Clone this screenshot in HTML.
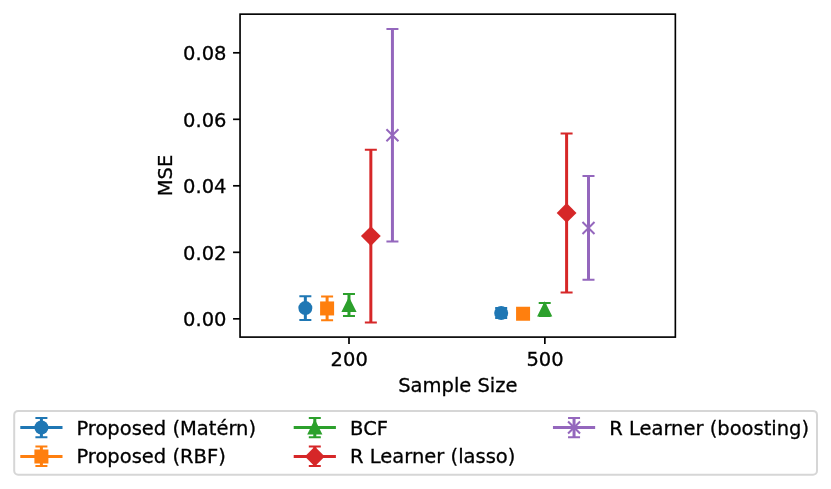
<!DOCTYPE html>
<html lang="en"><head><meta charset="utf-8"><title>MSE vs Sample Size</title>
<style>html,body{margin:0;padding:0;background:#fff}body{width:831px;height:489px;overflow:hidden}</style></head>
<body>
<svg width="831" height="489" viewBox="0 0 831 489" style="display:block">
<rect width="831" height="489" fill="#fff"/>
<g><path d="M305.35 296.20V320.00" stroke="#1f77b4" stroke-width="3.0" fill="none"/><path d="M299.35 296.20H311.35M299.35 320.00H311.35" stroke="#1f77b4" stroke-width="2.0" fill="none"/><circle cx="305.35" cy="308.1" r="7" fill="#1f77b4"/>
<path d="M501.18 308.00V318.06" stroke="#1f77b4" stroke-width="3.0" fill="none"/><path d="M495.18 308.00H507.18M495.18 318.06H507.18" stroke="#1f77b4" stroke-width="2.0" fill="none"/><circle cx="501.18" cy="313.03" r="7" fill="#1f77b4"/>
<path d="M327.1 296.60V320.30" stroke="#ff7f0e" stroke-width="3.0" fill="none"/><path d="M321.1 296.60H333.1M321.1 320.30H333.1" stroke="#ff7f0e" stroke-width="2.0" fill="none"/><rect x="320.1" y="301.45" width="14" height="14" fill="#ff7f0e"/>
<path d="M523.07 309.75V317.75" stroke="#ff7f0e" stroke-width="3.0" fill="none"/><path d="M517.07 309.75H529.07M517.07 317.75H529.07" stroke="#ff7f0e" stroke-width="2.0" fill="none"/><rect x="516.07" y="306.75" width="14" height="14" fill="#ff7f0e"/>
<path d="M348.98 294.10V316.10" stroke="#2ca02c" stroke-width="3.0" fill="none"/><path d="M342.98 294.10H354.98M342.98 316.10H354.98" stroke="#2ca02c" stroke-width="2.0" fill="none"/><path d="M348.98 299.1L354.98 311.1L342.98 311.1Z" fill="#2ca02c" stroke="#2ca02c" stroke-width="2" stroke-linejoin="miter"/>
<path d="M544.7 302.90V316.10" stroke="#2ca02c" stroke-width="3.0" fill="none"/><path d="M538.7 302.90H550.7M538.7 316.10H550.7" stroke="#2ca02c" stroke-width="2.0" fill="none"/><path d="M544.7 303.5L550.7 315.5L538.7 315.5Z" fill="#2ca02c" stroke="#2ca02c" stroke-width="2" stroke-linejoin="miter"/>
<path d="M370.84 149.69V322.49" stroke="#d62728" stroke-width="3.0" fill="none"/><path d="M364.84 149.69H376.84M364.84 322.49H376.84" stroke="#d62728" stroke-width="2.0" fill="none"/><path d="M370.84 226.19L380.73999999999995 236.09L370.84 245.99L360.94 236.09Z" fill="#d62728"/>
<path d="M566.6 133.40V292.40" stroke="#d62728" stroke-width="3.0" fill="none"/><path d="M560.6 133.40H572.6M560.6 292.40H572.6" stroke="#d62728" stroke-width="2.0" fill="none"/><path d="M566.6 203.0L576.5 212.9L566.6 222.8L556.7 212.9Z" fill="#d62728"/>
<path d="M392.43 28.93V241.61" stroke="#9467bd" stroke-width="3.0" fill="none"/><path d="M386.43 28.93H398.43M386.43 241.61H398.43" stroke="#9467bd" stroke-width="2.0" fill="none"/><path d="M386.43 129.27L398.43 141.27M386.43 141.27L398.43 129.27" fill="none" stroke="#9467bd" stroke-width="2"/>
<path d="M588.49 176.05V279.83" stroke="#9467bd" stroke-width="3.0" fill="none"/><path d="M582.49 176.05H594.49M582.49 279.83H594.49" stroke="#9467bd" stroke-width="2.0" fill="none"/><path d="M582.49 221.94L594.49 233.94M582.49 233.94L594.49 221.94" fill="none" stroke="#9467bd" stroke-width="2"/></g>
<rect x="240.05" y="14.15" width="435.30" height="322.95" fill="none" stroke="#000" stroke-width="1.65" stroke-linejoin="miter"/>
<g font-family='"DejaVu Sans", "Liberation Sans", sans-serif' font-size="20" fill="#000"><path d="M240.05 318.82h-7" stroke="#000" stroke-width="1.7"/>
<text transform="translate(226.5 326.22) scale(0.975 0.975)" text-anchor="end" stroke="#000" stroke-width="0.3">0.00</text>
<path d="M240.05 252.31h-7" stroke="#000" stroke-width="1.7"/>
<text transform="translate(226.5 259.71) scale(0.975 0.975)" text-anchor="end" stroke="#000" stroke-width="0.3">0.02</text>
<path d="M240.05 185.81h-7" stroke="#000" stroke-width="1.7"/>
<text transform="translate(226.5 193.21) scale(0.975 0.975)" text-anchor="end" stroke="#000" stroke-width="0.3">0.04</text>
<path d="M240.05 119.31h-7" stroke="#000" stroke-width="1.7"/>
<text transform="translate(226.5 126.71) scale(0.975 0.975)" text-anchor="end" stroke="#000" stroke-width="0.3">0.06</text>
<path d="M240.05 52.80h-7" stroke="#000" stroke-width="1.7"/>
<text transform="translate(226.5 60.2) scale(0.975 0.975)" text-anchor="end" stroke="#000" stroke-width="0.3">0.08</text>
<path d="M349.0 337.1v7" stroke="#000" stroke-width="1.7"/>
<text transform="translate(349.2 365.7) scale(0.975 0.975)" text-anchor="middle" stroke="#000" stroke-width="0.3">200</text>
<path d="M544.85 337.1v7" stroke="#000" stroke-width="1.7"/>
<text transform="translate(545.0500000000001 365.7) scale(0.975 0.975)" text-anchor="middle" stroke="#000" stroke-width="0.3">500</text>
<text transform="translate(457.85 392.35) scale(0.975 0.975)" text-anchor="middle" stroke="#000" stroke-width="0.3">Sample Size</text>
<text transform="translate(171.5 175.5) rotate(-90) scale(0.975 0.975)" text-anchor="middle" stroke="#000" stroke-width="0.3">MSE</text>
</g>
<rect x="14.2" y="410.9" width="802.8" height="63.9" rx="4" ry="4" fill="#fff" stroke="#d6d6d6" stroke-width="2"/>
<g font-family='"DejaVu Sans", "Liberation Sans", sans-serif' font-size="20" fill="#000"><path d="M20.299999999999997 427.55H62.5M41.4 417.55V437.55" stroke="#1f77b4" stroke-width="3.0" fill="none"/>
<path d="M35.4 417.95H47.4M35.4 437.15000000000003H47.4" stroke="#1f77b4" stroke-width="2.0" fill="none"/>
<circle cx="41.4" cy="427.55" r="7" fill="#1f77b4"/>
<text transform="translate(76.4 434.65) scale(0.975 0.975)" text-anchor="start" stroke="#000" stroke-width="0.3">Proposed (Matérn)</text>
<path d="M20.299999999999997 456.5H62.5M41.4 446.5V466.5" stroke="#ff7f0e" stroke-width="3.0" fill="none"/>
<path d="M35.4 446.5H47.4M35.4 466.1H47.4" stroke="#ff7f0e" stroke-width="2.0" fill="none"/>
<rect x="34.4" y="449.5" width="14" height="14" fill="#ff7f0e"/>
<text transform="translate(76.4 463.15) scale(0.975 0.975)" text-anchor="start" stroke="#000" stroke-width="0.3">Proposed (RBF)</text>
<path d="M293.7 427.55H335.90000000000003M314.8 417.55V437.55" stroke="#2ca02c" stroke-width="3.0" fill="none"/>
<path d="M308.8 417.95H320.8M308.8 437.15000000000003H320.8" stroke="#2ca02c" stroke-width="2.0" fill="none"/>
<path d="M314.8 421.55L320.8 433.55L308.8 433.55Z" fill="#2ca02c" stroke="#2ca02c" stroke-width="2" stroke-linejoin="miter"/>
<text transform="translate(350.1 434.65) scale(0.975 0.975)" text-anchor="start" stroke="#000" stroke-width="0.3">BCF</text>
<path d="M293.7 456.5H335.90000000000003M314.8 446.5V466.5" stroke="#d62728" stroke-width="3.0" fill="none"/>
<path d="M308.8 446.5H320.8M308.8 466.1H320.8" stroke="#d62728" stroke-width="2.0" fill="none"/>
<path d="M314.8 446.6L324.7 456.5L314.8 466.4L304.90000000000003 456.5Z" fill="#d62728"/>
<text transform="translate(350.1 463.15) scale(0.975 0.975)" text-anchor="start" stroke="#000" stroke-width="0.3">R Learner (lasso)</text>
<path d="M552.9499999999999 427.55H595.15M574.05 417.55V437.55" stroke="#9467bd" stroke-width="3.0" fill="none"/>
<path d="M568.05 417.95H580.05M568.05 437.15000000000003H580.05" stroke="#9467bd" stroke-width="2.0" fill="none"/>
<path d="M568.05 421.55L580.05 433.55M568.05 433.55L580.05 421.55" fill="none" stroke="#9467bd" stroke-width="2"/>
<text transform="translate(609.2 434.65) scale(0.975 0.975)" text-anchor="start" stroke="#000" stroke-width="0.3">R Learner (boosting)</text></g>
</svg>
</body></html>
